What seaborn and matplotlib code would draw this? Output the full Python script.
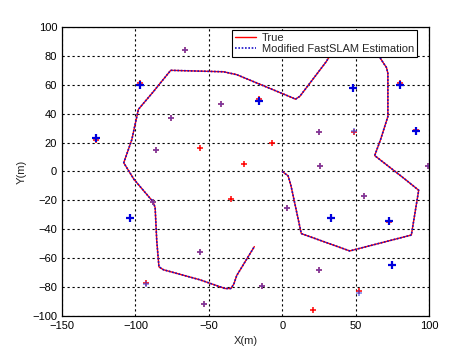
import matplotlib
matplotlib.use("Agg")
import matplotlib.pyplot as plt
import seaborn as sns
import pandas as pd

# vehicle path (true and estimate overlap almost exactly)
path_x = [0, 4, 6, 13, 46, 88, 93, 82, 63, 67, 72, 72, 71, 69, 62, 36, 30, 12, 9, 7,
          -31, -40, -76, -88, -98, -102.5, -108, -101, -88, -86.6, -85.5, -84, -81,
          -56, -39, -35, -33, -31, -19]
path_y = [0, -3, -10, -43, -55, -44, -13, -4, 11, 22, 38, 68, 72, 75, 86, 86, 76, 52, 50, 51,
          67, 69, 70, 55, 43, 22, 6, -5.5, -21, -25, -48, -66, -68,
          -75, -81, -81, -78, -72, -52]
est_x = path_x
est_y = path_y

# landmarks: true positions
true_lm_x = [-127, -97, -66, -76, -42, -86, -56, -16, -7, -26, 48, 80, 25, 49, 91, 26, 99,
             -88, -104, -35, -56, -93, -53, 3, 33, 56, 73, 75, 25, -14, 52, 21]
true_lm_y = [22, 61, 84, 37, 47, 15, 16, 50, 20, 5, 58, 61, 27, 27, 29, 4, 4,
             -21, -32, -19, -56, -77, -92, -25, -32, -17, -35, -65, -68, -79, -83, -96]

# estimated landmarks, well converged
est_lm_strong_x = [-127, -97, -16, 48, 80, 91, -104, 33, 73, 75]
est_lm_strong_y = [23, 60, 49, 58, 60, 28, -32, -32, -34, -65]
# estimated landmarks, partly off the true ones
est_lm_weak_x = [-66, -76, -42, -86, 25, 49, 26, 99, -88, -56, -93, -53, 3, 56, 25, -14, 52]
est_lm_weak_y = [84, 37, 47, 15, 27, 28, 4, 4, -21, -56, -78, -92, -25, -17, -68, -79, -84]

sns.set_style("white")
plt.rcParams["font.family"] = ["Liberation Sans", "DejaVu Sans"]

fig = plt.figure(figsize=(4.74, 3.55), dpi=100)
ax = fig.add_axes([0.131, 0.110, 0.774, 0.814])

path = pd.DataFrame({"x": path_x, "y": path_y})
est = pd.DataFrame({"x": est_x, "y": est_y})
sns.lineplot(data=path, x="x", y="y", sort=False, estimator=None, color="red",
             linewidth=1.0, ax=ax, label="True")
sns.lineplot(data=est, x="x", y="y", sort=False, estimator=None, color="#1a10c8",
             linewidth=1.2, linestyle=(0, (1, 1)), ax=ax, label="Modified FastSLAM Estimation")

ax.plot(true_lm_x, true_lm_y, "+", color="red", markersize=5, mew=1.1)
ax.plot(est_lm_weak_x, est_lm_weak_y, "+", color="#3c50e6", alpha=0.7, markersize=5, mew=1.1)
ax.plot(est_lm_strong_x, est_lm_strong_y, "+", color="#0000dc", markersize=5.5, mew=1.6)

ax.set_xlim(-150, 100)
ax.set_ylim(-100, 100)
ax.set_xticks(range(-150, 101, 50))
ax.set_yticks(range(-100, 101, 20))
ax.grid(True, color="black", linestyle=(0, (2, 2.5)), linewidth=0.8)
ax.set_axisbelow(True)
ax.tick_params(direction="in", length=3, labelsize=8, colors="black")
for s in ax.spines.values():
    s.set_color("black")
    s.set_linewidth(0.9)
ax.set_xlabel("X(m)", fontsize=8)
ax.set_ylabel("Y(m)", fontsize=8)

leg = ax.legend(loc="upper right", bbox_to_anchor=(0.967, 0.99), borderaxespad=0,
                fontsize=8, handlelength=1.9, handletextpad=0.5, borderpad=0.25,
                labelspacing=0.1, fancybox=False, framealpha=1, edgecolor="black")
leg.get_frame().set_linewidth(0.8)

fig.savefig("out.png", dpi=100)
